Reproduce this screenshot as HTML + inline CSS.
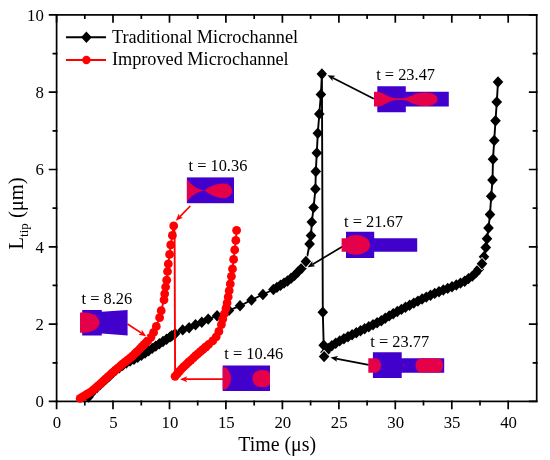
<!DOCTYPE html><html><head><meta charset="utf-8"><title>Ltip vs Time</title><style>html,body{margin:0;padding:0;background:#fff}svg{display:block}text{font-family:"Liberation Serif",serif;fill:#000}</style></head><body>
<svg width="550" height="460" viewBox="0 0 550 460">
<rect width="550" height="460" fill="#fff"/>
<g stroke="#000" stroke-width="1.7" fill="none" stroke-linecap="square">
<rect x="56.6" y="14.9" width="480.1" height="386.5"/>
<path d="M56.6 401.4v7M56.6 14.9v7"/>
<path d="M84.8 401.4v3.2M84.8 14.9v3.2"/>
<path d="M113.0 401.4v7M113.0 14.9v7"/>
<path d="M141.3 401.4v3.2M141.3 14.9v3.2"/>
<path d="M169.5 401.4v7M169.5 14.9v7"/>
<path d="M197.7 401.4v3.2M197.7 14.9v3.2"/>
<path d="M225.9 401.4v7M225.9 14.9v7"/>
<path d="M254.2 401.4v3.2M254.2 14.9v3.2"/>
<path d="M282.4 401.4v7M282.4 14.9v7"/>
<path d="M310.6 401.4v3.2M310.6 14.9v3.2"/>
<path d="M338.9 401.4v7M338.9 14.9v7"/>
<path d="M367.1 401.4v3.2M367.1 14.9v3.2"/>
<path d="M395.3 401.4v7M395.3 14.9v7"/>
<path d="M423.5 401.4v3.2M423.5 14.9v3.2"/>
<path d="M451.8 401.4v7M451.8 14.9v7"/>
<path d="M480.0 401.4v3.2M480.0 14.9v3.2"/>
<path d="M508.2 401.4v7M508.2 14.9v7"/>
<path d="M56.6 401.4h-7M536.7 401.4h-7"/>
<path d="M56.6 362.8h-3.2M536.7 362.8h-3.2"/>
<path d="M56.6 324.1h-7M536.7 324.1h-7"/>
<path d="M56.6 285.4h-3.2M536.7 285.4h-3.2"/>
<path d="M56.6 246.8h-7M536.7 246.8h-7"/>
<path d="M56.6 208.1h-3.2M536.7 208.1h-3.2"/>
<path d="M56.6 169.5h-7M536.7 169.5h-7"/>
<path d="M56.6 130.8h-3.2M536.7 130.8h-3.2"/>
<path d="M56.6 92.2h-7M536.7 92.2h-7"/>
<path d="M56.6 53.6h-3.2M536.7 53.6h-3.2"/>
<path d="M56.6 14.9h-7M536.7 14.9h-7"/>
</g>
<text transform="translate(57.0 428.2) scale(1 1.03)" font-size="16.8" text-anchor="middle">0</text>
<text transform="translate(113.5 428.2) scale(1 1.03)" font-size="16.8" text-anchor="middle">5</text>
<text transform="translate(169.9 428.2) scale(1 1.03)" font-size="16.8" text-anchor="middle">10</text>
<text transform="translate(226.3 428.2) scale(1 1.03)" font-size="16.8" text-anchor="middle">15</text>
<text transform="translate(282.8 428.2) scale(1 1.03)" font-size="16.8" text-anchor="middle">20</text>
<text transform="translate(339.2 428.2) scale(1 1.03)" font-size="16.8" text-anchor="middle">25</text>
<text transform="translate(395.7 428.2) scale(1 1.03)" font-size="16.8" text-anchor="middle">30</text>
<text transform="translate(452.1 428.2) scale(1 1.03)" font-size="16.8" text-anchor="middle">35</text>
<text transform="translate(508.6 428.2) scale(1 1.03)" font-size="16.8" text-anchor="middle">40</text>
<text transform="translate(43.8 407.1) scale(1 1.03)" font-size="16.8" text-anchor="end">0</text>
<text transform="translate(43.8 329.8) scale(1 1.03)" font-size="16.8" text-anchor="end">2</text>
<text transform="translate(43.8 252.5) scale(1 1.03)" font-size="16.8" text-anchor="end">4</text>
<text transform="translate(43.8 175.2) scale(1 1.03)" font-size="16.8" text-anchor="end">6</text>
<text transform="translate(43.8 97.9) scale(1 1.03)" font-size="16.8" text-anchor="end">8</text>
<text transform="translate(43.8 20.6) scale(1 1.03)" font-size="16.8" text-anchor="end">10</text>
<text transform="translate(277.2 450.9) scale(1 1.02)" font-size="19.9" text-anchor="middle">Time (μs)</text>
<text transform="translate(23.3 249.5) rotate(-90)" font-size="20.5">L<tspan font-size="13" dy="4.7">tip</tspan><tspan dy="-4.7"> (μm)</tspan></text>
<path d="M66 37.3H106" stroke="#000" stroke-width="1.9"/><path d="M86.4 31.6L91.7 37.3L86.4 43.0L81.1 37.3Z"/>
<path d="M66 60H106" stroke="#f00" stroke-width="1.9"/><circle cx="86.4" cy="60" r="4.2" fill="#f00"/>
<text transform="translate(111.9 42.5) scale(1 1.08)" font-size="18.25" text-anchor="start">Traditional Microchannel</text>
<text transform="translate(111.9 64.9) scale(1 1.08)" font-size="18.25" text-anchor="start">Improved Microchannel</text>
<polyline points="88.5,397.0 93.3,390.8 100.6,384.2 115.1,370.8 125.0,363.6 136.2,358.2 143.3,354.2 157.4,345.0 171.6,336.0 175.1,333.7 182.7,329.9 189.1,327.7 195.5,324.8 201.8,322.2 208.2,319.1 217.1,315.7 229.0,310.4 240.0,305.8 251.5,300.0 262.9,294.5 273.4,289.5 276.9,287.4 280.5,285.3 284.0,283.1 287.5,281.0 291.1,278.2 294.6,275.4 298.1,271.8 301.7,268.3 305.9,261.5 307.5,255.0 309.6,244.0 311.0,235.6 311.8,222.1 313.6,207.6 315.4,189.0 315.8,171.5 316.8,152.9 317.8,133.3 319.3,114.0 320.9,94.4 321.9,74.0 322.8,312.2 323.7,345.3 324.1,356.6 325.5,352.0 329.0,347.5 338.3,341.6 352.4,334.6 366.6,327.8 380.0,321.4 390.9,314.9 401.8,309.2 412.7,303.6 423.6,298.3 434.5,293.5 445.5,289.2 456.4,285.0 465.0,281.0 472.5,276.0 477.5,271.3 482.0,263.8 484.0,256.8 485.8,247.5 487.0,238.8 488.5,228.0 490.0,214.5 491.2,196.2 492.5,180.0 493.0,159.2 494.2,140.5 495.5,120.8 496.8,102.0 498.0,82.0" fill="none" stroke="#000" stroke-width="1.9" stroke-linejoin="round"/>
<g fill="#000"><path d="M88.5 391.3L93.8 397.0L88.5 402.7L83.2 397.0Z"/><path d="M91.1 387.9L96.4 393.6L91.1 399.3L85.8 393.6Z"/><path d="M93.8 384.6L99.1 390.3L93.8 396.0L88.5 390.3Z"/><path d="M97.0 381.8L102.3 387.5L97.0 393.2L91.7 387.5Z"/><path d="M100.1 378.9L105.4 384.6L100.1 390.3L94.8 384.6Z"/><path d="M103.2 376.1L108.5 381.8L103.2 387.5L97.9 381.8Z"/><path d="M106.4 373.2L111.7 378.9L106.4 384.6L101.1 378.9Z"/><path d="M109.5 370.3L114.8 376.0L109.5 381.7L104.2 376.0Z"/><path d="M112.6 367.4L117.9 373.1L112.6 378.8L107.3 373.1Z"/><path d="M115.8 364.6L121.1 370.3L115.8 376.0L110.5 370.3Z"/><path d="M119.3 362.1L124.6 367.8L119.3 373.5L114.0 367.8Z"/><path d="M122.7 359.6L128.0 365.3L122.7 371.0L117.4 365.3Z"/><path d="M126.3 357.3L131.6 363.0L126.3 368.7L121.0 363.0Z"/><path d="M130.1 355.4L135.4 361.1L130.1 366.8L124.8 361.1Z"/><path d="M134.0 353.6L139.3 359.3L134.0 365.0L128.7 359.3Z"/><path d="M137.7 351.6L143.0 357.3L137.7 363.0L132.4 357.3Z"/><path d="M141.4 349.5L146.7 355.2L141.4 360.9L136.1 355.2Z"/><path d="M145.1 347.3L150.4 353.0L145.1 358.7L139.8 353.0Z"/><path d="M148.6 345.0L153.9 350.7L148.6 356.4L143.3 350.7Z"/><path d="M152.2 342.7L157.5 348.4L152.2 354.1L146.9 348.4Z"/><path d="M155.8 340.4L161.1 346.1L155.8 351.8L150.5 346.1Z"/><path d="M159.4 338.1L164.7 343.8L159.4 349.5L154.1 343.8Z"/><path d="M163.0 335.8L168.3 341.5L163.0 347.2L157.7 341.5Z"/><path d="M166.6 333.5L171.9 339.2L166.6 344.9L161.3 339.2Z"/><path d="M170.1 331.2L175.4 336.9L170.1 342.6L164.8 336.9Z"/><path d="M171.8 330.1L177.1 335.8L171.8 341.5L166.5 335.8Z"/><path d="M175.1 328.0L180.4 333.7L175.1 339.4L169.8 333.7Z"/><path d="M182.7 324.2L188.0 329.9L182.7 335.6L177.4 329.9Z"/><path d="M189.1 322.0L194.4 327.7L189.1 333.4L183.8 327.7Z"/><path d="M195.5 319.1L200.8 324.8L195.5 330.5L190.2 324.8Z"/><path d="M201.8 316.5L207.1 322.2L201.8 327.9L196.5 322.2Z"/><path d="M208.2 313.4L213.5 319.1L208.2 324.8L202.9 319.1Z"/><path d="M217.1 310.0L222.4 315.7L217.1 321.4L211.8 315.7Z"/><path d="M229.0 304.7L234.3 310.4L229.0 316.1L223.7 310.4Z"/><path d="M240.0 300.1L245.3 305.8L240.0 311.5L234.7 305.8Z"/><path d="M251.5 294.3L256.8 300.0L251.5 305.7L246.2 300.0Z"/><path d="M262.9 288.8L268.2 294.5L262.9 300.2L257.6 294.5Z"/><path d="M273.4 283.8L278.7 289.5L273.4 295.2L268.1 289.5Z"/><path d="M276.9 281.7L282.2 287.4L276.9 293.1L271.6 287.4Z"/><path d="M280.5 279.6L285.8 285.3L280.5 291.0L275.2 285.3Z"/><path d="M284.0 277.4L289.3 283.1L284.0 288.8L278.7 283.1Z"/><path d="M287.5 275.3L292.8 281.0L287.5 286.7L282.2 281.0Z"/><path d="M291.1 272.5L296.4 278.2L291.1 283.9L285.8 278.2Z"/><path d="M294.6 269.7L299.9 275.4L294.6 281.1L289.3 275.4Z"/><path d="M298.1 266.1L303.4 271.8L298.1 277.5L292.8 271.8Z"/><path d="M301.7 262.6L307.0 268.3L301.7 274.0L296.4 268.3Z"/><path d="M305.9 255.8L311.2 261.5L305.9 267.2L300.6 261.5Z"/><path d="M309.6 238.3L314.9 244.0L309.6 249.7L304.3 244.0Z"/><path d="M311.0 229.9L316.3 235.6L311.0 241.3L305.7 235.6Z"/><path d="M311.8 216.4L317.1 222.1L311.8 227.8L306.5 222.1Z"/><path d="M313.6 201.9L318.9 207.6L313.6 213.3L308.3 207.6Z"/><path d="M315.4 183.3L320.7 189.0L315.4 194.7L310.1 189.0Z"/><path d="M315.8 165.8L321.1 171.5L315.8 177.2L310.5 171.5Z"/><path d="M316.8 147.2L322.1 152.9L316.8 158.6L311.5 152.9Z"/><path d="M317.8 127.6L323.1 133.3L317.8 139.0L312.5 133.3Z"/><path d="M319.3 108.3L324.6 114.0L319.3 119.7L314.0 114.0Z"/><path d="M320.9 88.7L326.2 94.4L320.9 100.1L315.6 94.4Z"/><path d="M321.9 68.3L327.2 74.0L321.9 79.7L316.6 74.0Z"/><path d="M322.8 306.5L328.1 312.2L322.8 317.9L317.5 312.2Z"/><path d="M323.7 339.6L329.0 345.3L323.7 351.0L318.4 345.3Z"/><path d="M324.1 350.9L329.4 356.6L324.1 362.3L318.8 356.6Z"/><path d="M325.4 346.5L330.7 352.2L325.4 357.9L320.1 352.2Z"/><path d="M328.2 342.8L333.5 348.5L328.2 354.2L322.9 348.5Z"/><path d="M331.8 340.0L337.1 345.7L331.8 351.4L326.5 345.7Z"/><path d="M335.7 337.5L341.0 343.2L335.7 348.9L330.4 343.2Z"/><path d="M339.7 335.2L345.0 340.9L339.7 346.6L334.4 340.9Z"/><path d="M343.9 333.1L349.2 338.8L343.9 344.5L338.6 338.8Z"/><path d="M348.0 331.1L353.3 336.8L348.0 342.5L342.7 336.8Z"/><path d="M352.1 329.0L357.4 334.7L352.1 340.4L346.8 334.7Z"/><path d="M356.3 327.0L361.6 332.7L356.3 338.4L351.0 332.7Z"/><path d="M360.5 325.0L365.8 330.7L360.5 336.4L355.2 330.7Z"/><path d="M364.6 323.0L369.9 328.7L364.6 334.4L359.3 328.7Z"/><path d="M368.8 321.0L374.1 326.7L368.8 332.4L363.5 326.7Z"/><path d="M373.0 319.1L378.3 324.8L373.0 330.5L367.7 324.8Z"/><path d="M377.1 317.1L382.4 322.8L377.1 328.5L371.8 322.8Z"/><path d="M381.3 315.0L386.6 320.7L381.3 326.4L376.0 320.7Z"/><path d="M385.2 312.6L390.5 318.3L385.2 324.0L379.9 318.3Z"/><path d="M389.2 310.2L394.5 315.9L389.2 321.6L383.9 315.9Z"/><path d="M393.2 308.0L398.5 313.7L393.2 319.4L387.9 313.7Z"/><path d="M397.3 305.8L402.6 311.5L397.3 317.2L392.0 311.5Z"/><path d="M401.4 303.7L406.7 309.4L401.4 315.1L396.1 309.4Z"/><path d="M405.5 301.6L410.8 307.3L405.5 313.0L400.2 307.3Z"/><path d="M409.6 299.5L414.9 305.2L409.6 310.9L404.3 305.2Z"/><path d="M413.8 297.4L419.1 303.1L413.8 308.8L408.5 303.1Z"/><path d="M417.9 295.4L423.2 301.1L417.9 306.8L412.6 301.1Z"/><path d="M422.1 293.3L427.4 299.0L422.1 304.7L416.8 299.0Z"/><path d="M426.3 291.4L431.6 297.1L426.3 302.8L421.0 297.1Z"/><path d="M430.5 289.6L435.8 295.3L430.5 301.0L425.2 295.3Z"/><path d="M434.7 287.7L440.0 293.4L434.7 299.1L429.4 293.4Z"/><path d="M439.0 286.0L444.3 291.7L439.0 297.4L433.7 291.7Z"/><path d="M443.3 284.3L448.6 290.0L443.3 295.7L438.0 290.0Z"/><path d="M447.7 282.7L453.0 288.4L447.7 294.1L442.4 288.4Z"/><path d="M452.0 281.0L457.3 286.7L452.0 292.4L446.7 286.7Z"/><path d="M456.3 279.3L461.6 285.0L456.3 290.7L451.0 285.0Z"/><path d="M460.5 277.4L465.8 283.1L460.5 288.8L455.2 283.1Z"/><path d="M464.7 275.5L470.0 281.2L464.7 286.9L459.4 281.2Z"/><path d="M468.5 272.9L473.8 278.6L468.5 284.3L463.2 278.6Z"/><path d="M472.4 270.4L477.7 276.1L472.4 281.8L467.1 276.1Z"/><path d="M475.8 267.2L481.1 272.9L475.8 278.6L470.5 272.9Z"/><path d="M478.6 263.7L483.9 269.4L478.6 275.1L473.3 269.4Z"/><path d="M478.9 263.2L484.2 268.9L478.9 274.6L473.6 268.9Z"/><path d="M482.0 258.1L487.3 263.8L482.0 269.4L476.7 263.8Z"/><path d="M484.0 251.1L489.3 256.8L484.0 262.4L478.7 256.8Z"/><path d="M485.8 241.8L491.1 247.5L485.8 253.2L480.4 247.5Z"/><path d="M487.0 233.1L492.3 238.8L487.0 244.4L481.7 238.8Z"/><path d="M488.5 222.3L493.8 228.0L488.5 233.7L483.2 228.0Z"/><path d="M490.0 208.8L495.3 214.5L490.0 220.2L484.7 214.5Z"/><path d="M491.2 190.6L496.6 196.2L491.2 201.9L485.9 196.2Z"/><path d="M492.5 174.3L497.8 180.0L492.5 185.7L487.2 180.0Z"/><path d="M493.0 153.6L498.3 159.2L493.0 164.9L487.7 159.2Z"/><path d="M494.2 134.8L499.6 140.5L494.2 146.2L488.9 140.5Z"/><path d="M495.5 115.0L500.8 120.8L495.5 126.5L490.2 120.8Z"/><path d="M496.8 96.3L502.1 102.0L496.8 107.7L491.4 102.0Z"/><path d="M498.0 76.3L503.3 82.0L498.0 87.7L492.7 82.0Z"/></g>
<g fill="#000" stroke="#fff" stroke-width="1.6" paint-order="stroke"><path d="M305.9 255.8L311.2 261.5L305.9 267.2L300.6 261.5Z"/></g>
<g fill="#000" stroke="#fff" stroke-width="1.6" paint-order="stroke"><path d="M324.1 350.9L329.4 356.6L324.1 362.3L318.8 356.6Z"/></g>
<g fill="#000" stroke="#fff" stroke-width="1.6" paint-order="stroke"><path d="M482.0 258.1L487.3 263.8L482.0 269.4L476.7 263.8Z"/></g>
<polyline points="80.2,398.4 91.8,391.2 99.1,384.9 113.6,371.6 123.5,363.3 132.0,356.5 140.5,348.2 147.5,341.0 150.9,337.3 153.6,332.4 156.3,326.4 159.6,317.7 161.2,310.7 164.0,299.8 164.7,293.8 165.6,287.0 166.7,280.2 167.5,271.5 168.3,263.9 169.6,254.4 170.7,244.9 172.4,235.4 173.7,225.9 174.6,232.0 175.1,376.3 175.1,376.3 181.0,369.5 188.2,362.5 200.9,351.1 205.0,347.6 208.6,344.5 212.7,340.9 216.2,336.8 218.9,331.4 221.4,324.6 222.7,319.2 224.3,313.8 226.0,308.3 227.1,302.9 228.2,296.9 229.2,290.7 230.3,283.9 231.4,276.3 232.5,268.9 233.6,259.4 234.7,249.9 235.8,240.4 236.6,230.3" fill="none" stroke="#f00" stroke-width="1.9" stroke-linejoin="round"/>
<g fill="#f00"><circle cx="80.2" cy="398.4" r="4.4"/><circle cx="82.9" cy="396.7" r="4.4"/><circle cx="85.7" cy="395.0" r="4.4"/><circle cx="88.4" cy="393.3" r="4.4"/><circle cx="91.2" cy="391.6" r="4.4"/><circle cx="93.7" cy="389.6" r="4.4"/><circle cx="96.1" cy="387.5" r="4.4"/><circle cx="98.6" cy="385.4" r="4.4"/><circle cx="101.0" cy="383.2" r="4.4"/><circle cx="103.3" cy="381.0" r="4.4"/><circle cx="105.7" cy="378.8" r="4.4"/><circle cx="108.1" cy="376.6" r="4.4"/><circle cx="110.5" cy="374.5" r="4.4"/><circle cx="112.9" cy="372.3" r="4.4"/><circle cx="115.3" cy="370.2" r="4.4"/><circle cx="117.8" cy="368.1" r="4.4"/><circle cx="120.3" cy="366.0" r="4.4"/><circle cx="122.7" cy="363.9" r="4.4"/><circle cx="125.2" cy="361.9" r="4.4"/><circle cx="127.8" cy="359.9" r="4.4"/><circle cx="130.3" cy="357.9" r="4.4"/><circle cx="132.7" cy="355.8" r="4.4"/><circle cx="135.0" cy="353.5" r="4.4"/><circle cx="137.4" cy="351.3" r="4.4"/><circle cx="139.7" cy="349.0" r="4.4"/><circle cx="141.9" cy="346.7" r="4.4"/><circle cx="144.2" cy="344.4" r="4.4"/><circle cx="146.4" cy="342.1" r="4.4"/><circle cx="147.9" cy="340.5" r="4.4"/><circle cx="150.9" cy="337.3" r="4.4"/><circle cx="153.6" cy="332.4" r="4.4"/><circle cx="156.3" cy="326.4" r="4.4"/><circle cx="159.6" cy="317.7" r="4.4"/><circle cx="161.2" cy="310.7" r="4.4"/><circle cx="164.0" cy="299.8" r="4.4"/><circle cx="164.7" cy="293.8" r="4.4"/><circle cx="165.6" cy="287.0" r="4.4"/><circle cx="166.7" cy="280.2" r="4.4"/><circle cx="167.5" cy="271.5" r="4.4"/><circle cx="168.3" cy="263.9" r="4.4"/><circle cx="169.6" cy="254.4" r="4.4"/><circle cx="170.7" cy="244.9" r="4.4"/><circle cx="172.4" cy="235.4" r="4.4"/><circle cx="173.7" cy="225.9" r="4.4"/><circle cx="175.1" cy="376.3" r="4.4"/><circle cx="177.2" cy="373.9" r="4.4"/><circle cx="179.3" cy="371.4" r="4.4"/><circle cx="181.5" cy="369.0" r="4.4"/><circle cx="183.8" cy="366.7" r="4.4"/><circle cx="186.2" cy="364.5" r="4.4"/><circle cx="188.5" cy="362.2" r="4.4"/><circle cx="190.9" cy="360.1" r="4.4"/><circle cx="193.3" cy="357.9" r="4.4"/><circle cx="195.7" cy="355.7" r="4.4"/><circle cx="198.1" cy="353.6" r="4.4"/><circle cx="200.6" cy="351.4" r="4.4"/><circle cx="203.0" cy="349.3" r="4.4"/><circle cx="205.5" cy="347.2" r="4.4"/><circle cx="206.0" cy="346.8" r="4.4"/><circle cx="208.6" cy="344.5" r="4.4"/><circle cx="212.7" cy="340.9" r="4.4"/><circle cx="216.2" cy="336.8" r="4.4"/><circle cx="218.9" cy="331.4" r="4.4"/><circle cx="221.4" cy="324.6" r="4.4"/><circle cx="222.7" cy="319.2" r="4.4"/><circle cx="224.3" cy="313.8" r="4.4"/><circle cx="226.0" cy="308.3" r="4.4"/><circle cx="227.1" cy="302.9" r="4.4"/><circle cx="228.2" cy="296.9" r="4.4"/><circle cx="229.2" cy="290.7" r="4.4"/><circle cx="230.3" cy="283.9" r="4.4"/><circle cx="231.4" cy="276.3" r="4.4"/><circle cx="232.5" cy="268.9" r="4.4"/><circle cx="233.6" cy="259.4" r="4.4"/><circle cx="234.7" cy="249.9" r="4.4"/><circle cx="235.8" cy="240.4" r="4.4"/><circle cx="236.6" cy="230.3" r="4.4"/></g>
<path d="M146.2 336.2L138.5 334.8L141.5 333.1L141.8 329.8Z" fill="#fff" stroke="#fff" stroke-width="1.4"/><path d="M127.5 324.0L141.5 333.1" stroke="#f00" stroke-width="1.7" fill="none"/><path d="M146.2 336.2L138.5 334.8L141.5 333.1L141.8 329.8Z" fill="#f00"/>
<path d="M175.8 220.8L178.7 213.6L179.7 216.8L183.0 217.8Z" fill="#fff" stroke="#fff" stroke-width="1.4"/><path d="M190.3 206.0L179.7 216.8" stroke="#f00" stroke-width="1.7" fill="none"/><path d="M175.8 220.8L178.7 213.6L179.7 216.8L183.0 217.8Z" fill="#f00"/>
<path d="M180.0 379.2L187.2 376.2L185.6 379.2L187.2 382.2Z" fill="#fff" stroke="#fff" stroke-width="1.4"/><path d="M223.3 379.2L185.6 379.2" stroke="#f00" stroke-width="1.7" fill="none"/><path d="M180.0 379.2L187.2 376.2L185.6 379.2L187.2 382.2Z" fill="#f00"/>
<path d="M307.6 267.3L312.3 261.0L312.4 264.4L315.3 266.2Z" fill="#fff" stroke="#fff" stroke-width="1.4"/><path d="M342.1 246.8L312.4 264.4" stroke="#000" stroke-width="1.7" fill="none"/><path d="M307.6 267.3L312.3 261.0L312.4 264.4L315.3 266.2Z" fill="#000"/>
<path d="M327.5 75.2L335.3 75.8L332.5 77.7L332.6 81.1Z" fill="#fff" stroke="#fff" stroke-width="1.4"/><path d="M373.8 98.7L332.5 77.7" stroke="#000" stroke-width="1.7" fill="none"/><path d="M327.5 75.2L335.3 75.8L332.5 77.7L332.6 81.1Z" fill="#000"/>
<path d="M330.5 357.5L338.1 355.9L336.0 358.6L337.0 361.8Z" fill="#fff" stroke="#fff" stroke-width="1.4"/><path d="M368.7 364.9L336.0 358.6" stroke="#000" stroke-width="1.7" fill="none"/><path d="M330.5 357.5L338.1 355.9L336.0 358.6L337.0 361.8Z" fill="#000"/>
<path d="M82.2 310H101.8V311.8L127.6 310V335.5L101.8 333.6V335.5H82.2Z" fill="#4200cc"/>
<path d="M80 312.4H84C93 312.4 99.6 317 99.6 322.6C99.6 328 93 332.7 84 332.7H80Z" fill="#e5004a"/>
<text transform="translate(81.6 304) scale(1 1.08)" font-size="16.4" text-anchor="start">t = 8.26</text>
<rect x="186.9" y="177.4" width="47.1" height="25.8" fill="#4200cc"/>
<path d="M186.9 179C190 184 197 189.5 204.5 190.4C210 186 217 183.6 223 183.6C229 183.6 232 187 232 190.6C232 194.5 229 198.2 223 198.2C217 198.2 210 195 204.5 190.6C197 191.5 190 197 186.9 202Z" fill="#e5004a"/>
<text transform="translate(188.5 171.3) scale(1 1.08)" font-size="16.4" text-anchor="start">t = 10.36</text>
<rect x="222.7" y="365.5" width="47.3" height="25.5" fill="#4200cc"/>
<path d="M222.7 367.3H225.5C229 370 231 374 231 378.4C231 383 229 387 225.5 389.5H222.7Z" fill="#e5004a"/>
<path d="M270 373.5V383.5Q269.5 387.3 262 387.3C256 387.3 252.4 383.5 252.4 378.6C252.4 373.5 256 369.9 262 369.9Q269.5 369.9 270 373.5Z" fill="#e5004a"/>
<text transform="translate(224.3 359.2) scale(1 1.08)" font-size="16.4" text-anchor="start">t = 10.46</text>
<path d="M346 231.8H374.2V238.2H417.2V251.7H374.2V258H346Z" fill="#4200cc"/>
<path d="M341.6 238.2H346.5C349 236 352 235.1 355.5 235.1C364 235.1 370.1 239.5 370.1 245C370.1 250.3 364 254.7 355.5 254.7C352 254.7 349 253.8 346.5 251.7H341.6Z" fill="#e5004a"/>
<text transform="translate(344 226.7) scale(1 1.08)" font-size="16.4" text-anchor="start">t = 21.67</text>
<path d="M377.3 86.2H405.8V91.8H448.8V106.6H405.8V112.2H377.3Z" fill="#4200cc"/>
<path d="M374 91.8H378C384 92.5 388 97.6 395 98.2C400 98.5 404 98.3 407 97.6C412 95.5 416 92.4 425 92.4C433 92.4 437.6 95.3 437.6 99.2C437.6 103.1 433 106 425 106C416 106 412 102.9 407 100.8C404 100.1 400 99.9 395 100.2C388 100.8 384 106 378 106.6H374Z" fill="#e5004a"/>
<text transform="translate(376.2 80.4) scale(1 1.08)" font-size="16.4" text-anchor="start">t = 23.47</text>
<path d="M372.9 352.3H401.7V358.2H444.2V372.7H401.7V378H372.9Z" fill="#4200cc"/>
<path d="M368.3 358.2H376C379.5 359.5 381 362 381 365.4C381 369 379.5 371.5 376 372.7H368.3Z" fill="#e5004a"/>
<path d="M422.5 358.3H436.5C441.5 358.3 443 361.3 443 365.4C443 369.6 441.5 372.6 436.5 372.6H422.5C418 372.6 415.5 369.7 415.5 365.4C415.5 361.2 418 358.3 422.5 358.3Z" fill="#e5004a"/>
<circle cx="403.5" cy="365.3" r="0.7" fill="#e5004a"/>
<text transform="translate(370.3 347.2) scale(1 1.08)" font-size="16.4" text-anchor="start">t = 23.77</text>
</svg></body></html>
